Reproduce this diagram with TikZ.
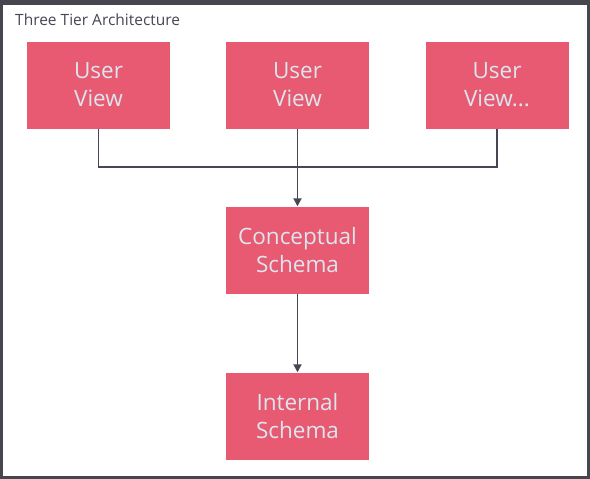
\documentclass[tikz,border=0pt]{standalone}
\usepackage{fontspec}
\setmainfont{Open Sans}
\usetikzlibrary{arrows.meta}
\definecolor{boxpink}{HTML}{E85A71}
\definecolor{boxtext}{HTML}{DDE6EF}
\definecolor{linegray}{HTML}{474655}
\definecolor{framegray}{HTML}{46464F}
\tikzset{
  x=1pt,y=-1pt,
  tierbox/.style={fill=boxpink,draw=none,minimum width=143pt,minimum height=87pt,inner sep=0pt,
    text=boxtext,font=\fontsize{22.5}{28}\selectfont,align=center},
  conn/.style={draw=linegray,line width=1.8pt},
  arr/.style={conn,-{Triangle[length=8pt,width=8pt]}}
}
\begin{document}
\begin{tikzpicture}
\fill[framegray] (0,0) rectangle (590,479);
\fill[white] (3,5) rectangle (587,476);
\useasboundingbox (0,0) rectangle (590,479);
\node[anchor=base west,inner sep=0pt,text=linegray,font=\fontsize{15.5}{18}\selectfont] (title) at (15,25) {Three Tier Architecture};
\node[tierbox] (u1) at (98.5,85) {User\\View};
\node[tierbox] (u2) at (297.5,85) {User\\View};
\node[tierbox] (u3) at (497,85) {User\\View...};
\node[tierbox] (cs) at (297.5,250) {Conceptual\\Schema};
\node[tierbox] (is) at (297.5,416) {Internal\\Schema};
\coordinate (j) at (297.5,167);
\draw[conn] (u1.south) |- (j);
\draw[conn] (u3.south) |- (j);
\draw[arr] (u2.south) -- (cs.north);
\draw[arr] (cs.south) -- (is.north);
\end{tikzpicture}
\end{document}
